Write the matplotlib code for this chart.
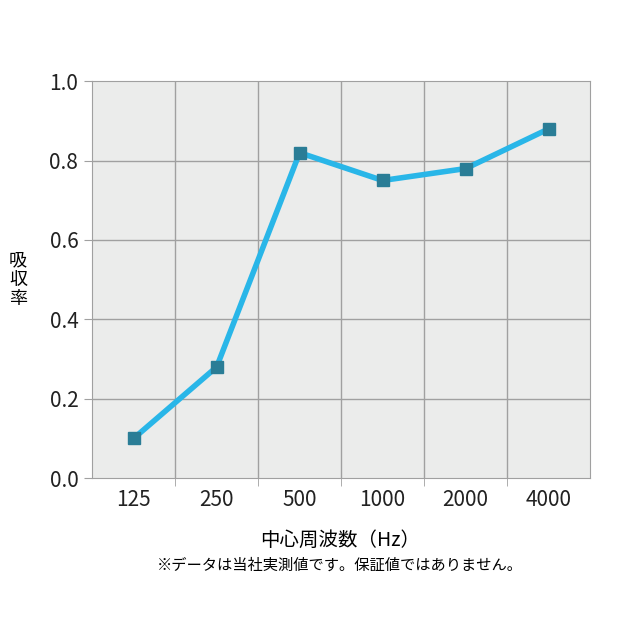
import matplotlib
matplotlib.use("Agg")
import matplotlib.pyplot as plt

plt.rcParams['font.family'] = ['Noto Sans CJK JP', 'DejaVu Sans']

freqs = ["125", "250", "500", "1000", "2000", "4000"]
absorption = [0.10, 0.28, 0.82, 0.75, 0.78, 0.88]

fig = plt.figure(figsize=(6.4, 6.4), dpi=100)
ax = fig.add_axes([0.144, 0.253, 0.778, 0.62])
ax.set_facecolor('#ebeceb')
x = list(range(len(freqs)))
ax.plot(x, absorption, color='#29b6e8', lw=4, zorder=3)
ax.plot(x, absorption, ls='none', marker='s', ms=8, color='#2a7d96', zorder=4)
ax.set_xlim(-0.5, 5.5)
ax.set_ylim(0, 1.0)
ax.set_xticks(x)
ax.set_xticklabels(freqs)
ax.set_yticks([0, 0.2, 0.4, 0.6, 0.8, 1.0])
ax.set_yticklabels(["0.0", "0.2", "0.4", "0.6", "0.8", "1.0"])
ax.set_xticks([i + 0.5 for i in range(5)], minor=True)
ax.grid(False)
for v in [0.5, 1.5, 2.5, 3.5, 4.5]:
    ax.axvline(v, color='#a0a0a0', lw=1, zorder=1)
for v in [0.2, 0.4, 0.6, 0.8]:
    ax.axhline(v, color='#a0a0a0', lw=1, zorder=1)
for s in ax.spines.values():
    s.set_color('#a0a0a0')
ax.tick_params(axis='both', which='both', length=0, labelsize=15, colors='#222222', pad=8)
ax.tick_params(axis='y', which='major', length=6, color='#a0a0a0', direction='out', pad=4)
ax.tick_params(axis='x', which='minor', length=6, color='#a0a0a0', direction='out')

fig.text(18/640, 1-280/640, "吸\n収\n率", ha='center', va='center', fontsize=13, linespacing=1.1)
fig.text(340/640, 1-540/640, "中心周波数（Hz）", ha='center', va='center', fontsize=14)
fig.text(340/640, 1-565/640, "※データは当社実測値です。保証値ではありません。", ha='center', va='center', fontsize=11)

fig.savefig("out.png", dpi=100, facecolor='white')
